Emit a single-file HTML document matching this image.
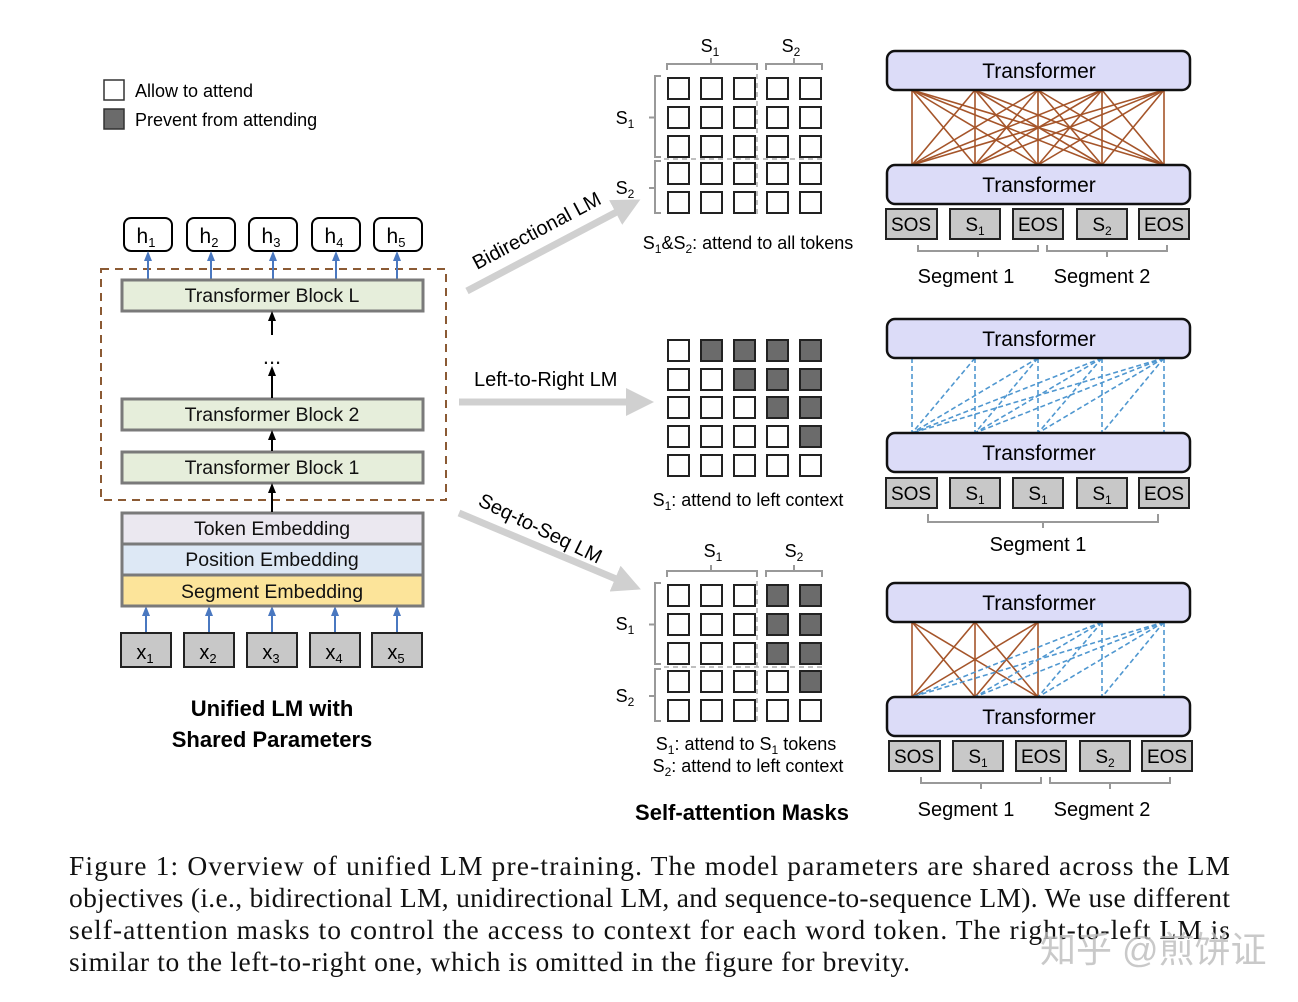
<!DOCTYPE html>
<html><head><meta charset="utf-8"><style>
html,body{margin:0;padding:0;background:#fff}
svg{display:block}
text{font-family:"Liberation Sans",Arial,sans-serif}
.cap text{font-family:"Liberation Serif",serif;font-size:27.5px;fill:#111}
</style></head><body>
<svg id="s" width="1298" height="1002" viewBox="0 0 1298 1002" xmlns="http://www.w3.org/2000/svg">
<defs>
<marker id="ab" markerUnits="userSpaceOnUse" markerWidth="10" markerHeight="10" refX="5" refY="5" orient="auto"><path d="M0,1 L10,5 L0,9 z" fill="#4a78c0"/></marker>
<marker id="ak" markerUnits="userSpaceOnUse" markerWidth="10" markerHeight="10" refX="5" refY="5" orient="auto"><path d="M0,1 L10,5 L0,9 z" fill="#000"/></marker>
<marker id="ag" markerWidth="4" markerHeight="4" refX="2" refY="2" orient="auto"><path d="M0,0 L4,2 L0,4 z" fill="#d0d0d0"/></marker>
</defs>
<rect x="104" y="80" width="20" height="20" fill="#fff" stroke="#333" stroke-width="1.5"/>
<rect x="104" y="109" width="20" height="20" fill="#6b6b6b" stroke="#333" stroke-width="1.5"/>
<text x="135" y="97" font-size="18">Allow to attend</text>
<text x="135" y="126" font-size="18">Prevent from attending</text>

<g stroke="#000" stroke-width="2" fill="#fff">
<rect x="124" y="218" width="48" height="33" rx="7"/><rect x="187" y="218" width="48" height="33" rx="7"/><rect x="249" y="218" width="48" height="33" rx="7"/><rect x="312" y="218" width="48" height="33" rx="7"/><rect x="374" y="218" width="48" height="33" rx="7"/>
</g>
<g font-size="21" text-anchor="middle">
<text x="146" y="243">h<tspan font-size="13" dy="4">1</tspan></text>
<text x="209" y="243">h<tspan font-size="13" dy="4">2</tspan></text>
<text x="271" y="243">h<tspan font-size="13" dy="4">3</tspan></text>
<text x="334" y="243">h<tspan font-size="13" dy="4">4</tspan></text>
<text x="396" y="243">h<tspan font-size="13" dy="4">5</tspan></text>
</g>
<rect x="101" y="269" width="345" height="231" fill="none" stroke="#8b5a34" stroke-width="2" stroke-dasharray="8,6"/>
<g stroke="#4a78c0" stroke-width="2">
<line x1="148" y1="280" x2="148" y2="256" marker-end="url(#ab)"/><line x1="211" y1="280" x2="211" y2="256" marker-end="url(#ab)"/><line x1="273" y1="280" x2="273" y2="256" marker-end="url(#ab)"/><line x1="336" y1="280" x2="336" y2="256" marker-end="url(#ab)"/><line x1="397" y1="280" x2="397" y2="256" marker-end="url(#ab)"/>
<line x1="146" y1="633" x2="146" y2="611" marker-end="url(#ab)"/><line x1="209" y1="633" x2="209" y2="611" marker-end="url(#ab)"/><line x1="272" y1="633" x2="272" y2="611" marker-end="url(#ab)"/><line x1="335" y1="633" x2="335" y2="611" marker-end="url(#ab)"/><line x1="397" y1="633" x2="397" y2="611" marker-end="url(#ab)"/>
</g>
<g stroke="#7a7a7a" stroke-width="3">
<rect x="122" y="280" width="301" height="31" fill="#e6eedb"/>
<rect x="122" y="399" width="301" height="31" fill="#e6eedb"/>
<rect x="122" y="452" width="301" height="31" fill="#e6eedb"/>
<rect x="122" y="513" width="301" height="31" fill="#ebe8f0"/>
<rect x="122" y="544" width="301" height="31" fill="#dde8f5"/>
<rect x="122" y="575" width="301" height="31" fill="#fce49a"/>
</g>
<g stroke="#000" stroke-width="2">
<line x1="272" y1="335" x2="272" y2="316" marker-end="url(#ak)"/>
<line x1="272" y1="398" x2="272" y2="371" marker-end="url(#ak)"/>
<line x1="272" y1="451" x2="272" y2="435" marker-end="url(#ak)"/>
<line x1="272" y1="512" x2="272" y2="488" marker-end="url(#ak)"/>
</g>
<g font-size="19.5" text-anchor="middle" fill="#111">
<text x="272" y="302">Transformer Block L</text>
<text x="272" y="364" font-size="22">...</text>
<text x="272" y="421">Transformer Block 2</text>
<text x="272" y="474">Transformer Block 1</text>
<text x="272" y="535">Token Embedding</text>
<text x="272" y="566">Position Embedding</text>
<text x="272" y="598">Segment Embedding</text>
</g>
<g fill="#c8c8c8" stroke="#222" stroke-width="2">
<rect x="121" y="633" width="50" height="34"/><rect x="184" y="633" width="50" height="34"/><rect x="247" y="633" width="50" height="34"/><rect x="310" y="633" width="50" height="34"/><rect x="372" y="633" width="50" height="34"/>
</g>
<g font-size="20" text-anchor="middle">
<text x="145" y="659">x<tspan font-size="13" dy="4">1</tspan></text>
<text x="208" y="659">x<tspan font-size="13" dy="4">2</tspan></text>
<text x="271" y="659">x<tspan font-size="13" dy="4">3</tspan></text>
<text x="334" y="659">x<tspan font-size="13" dy="4">4</tspan></text>
<text x="396" y="659">x<tspan font-size="13" dy="4">5</tspan></text>
</g>
<g font-size="22" font-weight="bold" text-anchor="middle">
<text x="272" y="716">Unified LM with</text>
<text x="272" y="747">Shared Parameters</text>
<text x="742" y="820">Self-attention Masks</text>
</g>

<g stroke="#d0d0d0" stroke-width="7">
<line x1="467" y1="291" x2="628" y2="206" marker-end="url(#ag)"/>
<line x1="459" y1="402" x2="640" y2="402" marker-end="url(#ag)"/>
<line x1="459" y1="513" x2="628" y2="584" marker-end="url(#ag)"/>
</g>
<g font-size="20">
<text transform="translate(477,270) rotate(-28)">Bidirectional LM</text>
<text x="474" y="386">Left-to-Right LM</text>
<text transform="translate(477,505) rotate(26)">Seq-to-Seq LM</text>
</g>

<g id="grids"></g>
<g id="lines"></g>

<g font-size="18" text-anchor="middle">
<text x="710" y="52">S<tspan font-size="12" dy="4">1</tspan></text>
<text x="791" y="52">S<tspan font-size="12" dy="4">2</tspan></text>
<text x="625" y="124">S<tspan font-size="12" dy="4">1</tspan></text>
<text x="625" y="194">S<tspan font-size="12" dy="4">2</tspan></text>
<text x="713" y="557">S<tspan font-size="12" dy="4">1</tspan></text>
<text x="794" y="557">S<tspan font-size="12" dy="4">2</tspan></text>
<text x="625" y="630">S<tspan font-size="12" dy="4">1</tspan></text>
<text x="625" y="702">S<tspan font-size="12" dy="4">2</tspan></text>
<text x="748" y="249">S<tspan font-size="12" dy="4">1</tspan><tspan dy="-4">&amp;S</tspan><tspan font-size="12" dy="4">2</tspan><tspan dy="-4">: attend to all tokens</tspan></text>
<text x="748" y="506">S<tspan font-size="12" dy="4">1</tspan><tspan dy="-4">: attend to left context</tspan></text>
<text x="746" y="750">S<tspan font-size="12" dy="4">1</tspan><tspan dy="-4">: attend to S</tspan><tspan font-size="12" dy="4">1</tspan><tspan dy="-4"> tokens</tspan></text>
<text x="748" y="772">S<tspan font-size="12" dy="4">2</tspan><tspan dy="-4">: attend to left context</tspan></text>
</g>

<g fill="#dcdcf8" stroke="#111" stroke-width="2.5">
<rect x="887" y="51" width="303" height="39" rx="8"/><rect x="887" y="165" width="303" height="39" rx="8"/>
<rect x="887" y="319" width="303" height="39" rx="8"/><rect x="887" y="433" width="303" height="39" rx="8"/>
<rect x="887" y="583" width="303" height="39" rx="8"/><rect x="887" y="697" width="303" height="39" rx="8"/>
</g>
<g font-size="21" text-anchor="middle">
<text x="1039" y="78">Transformer</text><text x="1039" y="192">Transformer</text>
<text x="1039" y="346">Transformer</text><text x="1039" y="460">Transformer</text>
<text x="1039" y="610">Transformer</text><text x="1039" y="724">Transformer</text>
</g>
<g fill="#c8c8c8" stroke="#222" stroke-width="2">
<rect x="886" y="209" width="51" height="30"/><rect x="950" y="209" width="50" height="30"/><rect x="1013" y="209" width="50" height="30"/><rect x="1077" y="209" width="50" height="30"/><rect x="1139" y="209" width="50" height="30"/>
<rect x="886" y="478" width="51" height="30"/><rect x="950" y="478" width="50" height="30"/><rect x="1013" y="478" width="50" height="30"/><rect x="1077" y="478" width="50" height="30"/><rect x="1139" y="478" width="50" height="30"/>
<rect x="889" y="741" width="51" height="30"/><rect x="953" y="741" width="50" height="30"/><rect x="1016" y="741" width="50" height="30"/><rect x="1080" y="741" width="50" height="30"/><rect x="1142" y="741" width="50" height="30"/>
</g>
<g font-size="19" text-anchor="middle">
<text x="911" y="231">SOS</text><text x="975" y="231">S<tspan font-size="12" dy="4">1</tspan></text><text x="1038" y="231">EOS</text><text x="1102" y="231">S<tspan font-size="12" dy="4">2</tspan></text><text x="1164" y="231">EOS</text>
<text x="911" y="500">SOS</text><text x="975" y="500">S<tspan font-size="12" dy="4">1</tspan></text><text x="1038" y="500">S<tspan font-size="12" dy="4">1</tspan></text><text x="1102" y="500">S<tspan font-size="12" dy="4">1</tspan></text><text x="1164" y="500">EOS</text>
<text x="914" y="763">SOS</text><text x="978" y="763">S<tspan font-size="12" dy="4">1</tspan></text><text x="1041" y="763">EOS</text><text x="1105" y="763">S<tspan font-size="12" dy="4">2</tspan></text><text x="1167" y="763">EOS</text>
</g>
<g fill="none" stroke="#999" stroke-width="2">
<path d="M918,245 v6 h120 v-6 M978,251 v6"/><path d="M1047,245 v6 h120 v-6 M1107,251 v6"/>
<path d="M928,514 v8 h230 v-8 M1043,522 v6"/>
<path d="M921,777 v6 h120 v-6 M981,783 v6"/><path d="M1050,777 v6 h120 v-6 M1110,783 v6"/>
</g>
<g font-size="20" text-anchor="middle">
<text x="966" y="283">Segment 1</text><text x="1102" y="283">Segment 2</text>
<text x="1038" y="551">Segment 1</text>
<text x="966" y="816">Segment 1</text><text x="1102" y="816">Segment 2</text>
</g>

<g class="cap">
<text x="69" y="875" textLength="1161" lengthAdjust="spacing">Figure 1: Overview of unified LM pre-training. The model parameters are shared across the LM</text>
<text x="69" y="907" textLength="1161" lengthAdjust="spacing">objectives (i.e., bidirectional LM, unidirectional LM, and sequence-to-sequence LM). We use different</text>
<text x="69" y="939" textLength="1161" lengthAdjust="spacing">self-attention masks to control the access to context for each word token. The right-to-left LM is</text>
<text x="69" y="971" textLength="841" lengthAdjust="spacing">similar to the left-to-right one, which is omitted in the figure for brevity.</text>
</g>
<text x="1040" y="962" font-size="36" fill="#bbb" fill-opacity="0.8" style="font-family:'Liberation Sans','Noto Sans CJK SC',sans-serif">知乎 @煎饼证</text>
</svg>
<script>
var NS="http://www.w3.org/2000/svg";
function el(p,t,a){var e=document.createElementNS(NS,t);for(var k in a)e.setAttribute(k,a[k]);p.appendChild(e);return e;}
var G=document.getElementById("grids"),L=document.getElementById("lines");
var cols=[668,701,734,767,800];
function grid(rows,dark){
  for(var r=0;r<5;r++)for(var c=0;c<5;c++)
    el(G,"rect",{x:cols[c],y:rows[r],width:21,height:21,fill:dark(r,c)?"#6b6b6b":"#fff",stroke:"#222","stroke-width":2});
}
var R1=[78,107,136,163,192],R2=[340,369,397,426,455],R3=[585,614,643,671,700];
grid(R1,function(){return false});
grid(R2,function(r,c){return c>r});
grid(R3,function(r,c){return (r<3&&c>=3)||(r==3&&c==4)});
[R1,R3].forEach(function(R){var yt=R[0]-8;
 el(G,"path",{d:"M667,"+yt+" v-6 h90 v6 M711,"+(yt-6)+" v-6 M766,"+yt+" v-6 h56 v6 M794,"+(yt-6)+" v-6",fill:"none",stroke:"#999","stroke-width":2});
 el(G,"path",{d:"M661,"+(R[0]-2)+" h-6 v"+(R[2]+23-R[0])+" h6 M655,"+((R[0]+R[2]+21)/2)+" h-6 M661,"+(R[3]-2)+" h-6 v"+(R[4]+23-R[3])+" h6 M655,"+((R[3]+R[4]+21)/2)+" h-6",fill:"none",stroke:"#999","stroke-width":2});
 el(G,"line",{x1:757,y1:R[0]-4,x2:757,y2:R[4]+23,stroke:"#aaa","stroke-width":1.5,"stroke-dasharray":"5,4"});
 el(G,"line",{x1:664,y1:R[3]-4,x2:824,y2:R[3]-4,stroke:"#aaa","stroke-width":1.5,"stroke-dasharray":"5,4"});
});
var X=[912,975,1038,1102,1164];
function ln(x1,y1,x2,y2,blue){el(L,"line",{x1:x1,y1:y1,x2:x2,y2:y2,stroke:blue?"#4f97d0":"#a5552a","stroke-width":1.6,"stroke-dasharray":blue?"5,3":"none"});}
for(var i=0;i<5;i++)for(var j=0;j<5;j++)ln(X[j],90,X[i],165,false);
for(var j=0;j<5;j++)for(var i=0;i<=j;i++)ln(X[j],358,X[i],433,true);
for(var i=0;i<3;i++)for(var j=0;j<3;j++)ln(X[j],622,X[i],697,false);
for(var j=3;j<5;j++)for(var i=0;i<=j;i++)ln(X[j],622,X[i],697,true);
</script>
</body></html>
